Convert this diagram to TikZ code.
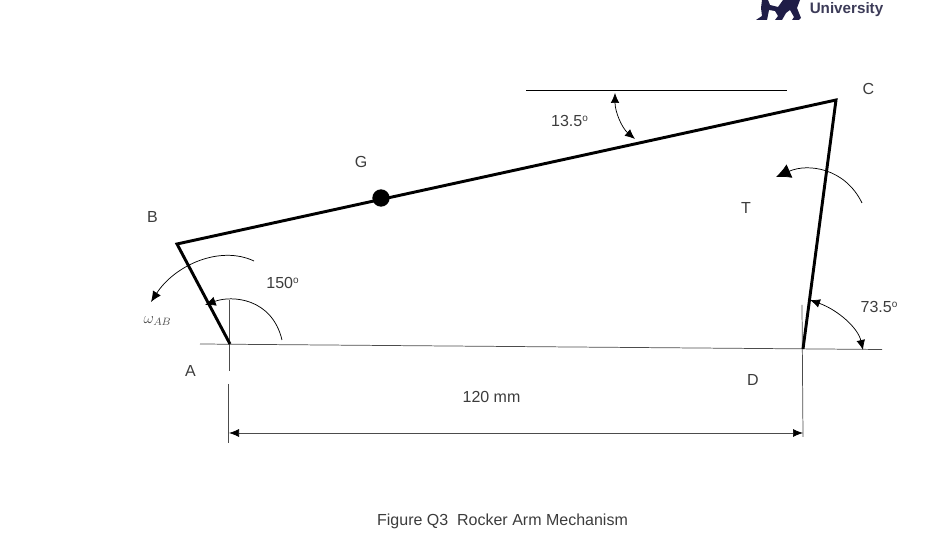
\documentclass[tikz,border=0pt]{standalone}
\usepackage{fontspec}
\setmainfont{Liberation Sans}
\usetikzlibrary{arrows.meta}

\definecolor{labelgray}{RGB}{60,60,60}
\definecolor{lionblue}{RGB}{31,29,71}
\newcommand{\degmark}{\raisebox{0.55ex}{\fontsize{7.5}{8}\selectfont o}}

\begin{document}
\begin{tikzpicture}[x=0.75pt,y=-0.75pt]
\tikzstyle{link}=[line width=2.2pt,black,line join=miter]
\tikzstyle{thinline}=[line width=0.55pt,black!70]
\tikzstyle{curve}=[line width=0.55pt,black]
\tikzstyle{label}=[font=\fontsize{12}{14}\selectfont,text=labelgray,inner sep=0pt]
\tikzstyle{head}=[{Latex[length=8pt,width=7pt]}-]
\tikzstyle{both}=[{Latex[length=7.5pt,width=6.5pt]}-{Latex[length=7.5pt,width=6.5pt]}]
\useasboundingbox (0,0) rectangle (947,548);

% joints
\coordinate (A) at (230,344);
\coordinate (B) at (177,244);
\coordinate (C) at (836,100);
\coordinate (D) at (803,349);
\coordinate (groundL) at (200,344);
\coordinate (groundR) at (882,349.5);
\coordinate (Aup) at (229,300);
\coordinate (Adown) at (229,371);
\coordinate (dimAtop) at (228,384);
\coordinate (dimAbot) at (228,443);
\coordinate (Dup) at (802,305);
\coordinate (Dbot) at (803,437);
\coordinate (dimL) at (229,433);
\coordinate (dimR) at (803,433);
\coordinate (topL) at (526,90);
\coordinate (topR) at (787,90);

% ground and extension lines
\draw[thinline] (groundL) -- (groundR);
\draw[thinline] (Aup) -- (Adown);
\draw[thinline] (dimAtop) -- (dimAbot);
\draw[thinline] (Dup) -- (Dbot);
\draw[line width=0.55pt,black] (topL) -- (topR);
\draw[thinline,{Latex[length=7.5pt,width=6pt,black]}-{Latex[length=7.5pt,width=6pt,black]}] (dimL) -- (dimR);

% the links
\draw[link] (A) -- (B) -- (C) -- (D);
\node[circle,fill=black,minimum size=13pt,inner sep=0pt] (G) at (381,198) {};

% angle arcs
\coordinate (arcAa) at (282,340);
\coordinate (arcAb) at (205,305);
\draw[curve,head] (arcAb) .. controls (232,295) and (272,298) .. (arcAa);
\coordinate (arcDa) at (810,300);
\coordinate (arcDb) at (863,350);
\draw[curve,both] (arcDa) .. controls (838,310) and (858,328) .. (arcDb);
\coordinate (arcCa) at (615,93);
\coordinate (arcCb) at (635,139);
\draw[curve,both] (arcCa) .. controls (615,112) and (622,128) .. (arcCb);

% moments
\coordinate (omegaA) at (254,261);
\coordinate (omegaB) at (151,302);
\draw[curve,head] (omegaB) .. controls (175,265) and (220,245) .. (omegaA);
\coordinate (torqueA) at (862,203);
\coordinate (torqueB) at (776,177);
\draw[curve,{Latex[length=11pt,width=11pt]}-] (torqueB) .. controls (808,163) and (845,168) .. (torqueA);

% labels
\node[label] (labA) at (190.5,370.5) {A};
\node[label] (labB) at (152.5,217) {B};
\node[label] (labC) at (868.5,88.5) {C};
\node[label] (labD) at (753,379.5) {D};
\node[label] (labG) at (361,161.5) {G};
\node[label] (labT) at (746,208) {T};
\node[label] (ang150) at (282.5,282.5) {150\degmark};
\node[label] (ang135) at (569.5,120.5) {13.5\degmark};
\node[label] (ang735) at (879,306.5) {73.5\degmark};
\node[label] (len) at (491.5,396.5) {120 mm};
\node[label,font=\fontsize{11.5}{12}\selectfont,text=black!70] (omega) at (157.5,321) {$\omega_{AB}$};
\node[label] (caption) at (502.5,521) {Figure Q3\ \ Rocker Arm Mechanism};

% logo, cut by the top edge
\fill[lionblue] (762,0) -- (768,0) -- (770,5) -- (778,7) -- (783,0) -- (800,0) -- (797,8) -- (801,18) -- (799,20) -- (792,20) -- (794,17) -- (790,10) -- (786,13) -- (782,20) -- (775,20) -- (778,16) -- (775,11) -- (769,10) -- (767,20) -- (756,20) -- (762,16) -- (761,8) -- cycle;
\node[label,font=\fontsize{11.4}{13}\bfseries\selectfont,text=lionblue!70!gray] (logo) at (846.5,10) {University};
\end{tikzpicture}
\end{document}
